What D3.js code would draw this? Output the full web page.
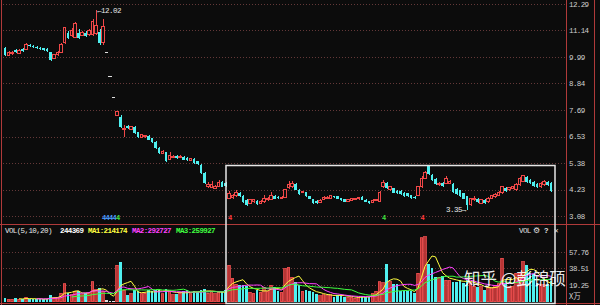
<!DOCTYPE html>
<html>
<head>
<meta charset="utf-8">
<script src="https://cdn.jsdelivr.net/npm/d3@7"></script>
<style>
  html, body { margin: 0; padding: 0; background: #0c0c0c; }
  svg { display: block; }
</style>
</head>
<body>
<div id="chart"></div>
<script>
// daily bars, oldest first
const openP = [
  10.36,10.07,10.12,10.29,10.16,10.33,10.30,10.50,10.48,10.44,
  10.40,10.36,10.33,10.20,9.92,10.08,10.20,10.60,11.05,10.90,
  10.85,11.05,10.92,11.05,10.95,10.95,11.00,11.07,10.60,10.20,
  9.18,8.26,7.43,7.40,6.82,7.00,6.85,6.95,6.72,6.48,
  6.53,6.55,6.45,6.30,6.05,5.80,5.85,5.55,5.62,5.70,
  5.60,5.66,5.60,5.50,5.55,5.45,5.30,4.95,4.36,4.30,
  4.28,4.38,4.55,4.50,3.86,3.88,3.95,4.08,3.95,3.78,
  3.64,3.70,3.73,3.62,3.69,3.78,3.80,3.95,3.90,3.86,
  3.87,4.30,4.35,4.47,4.22,4.10,4.12,3.95,3.82,3.73,
  3.68,3.80,3.82,3.83,3.93,3.95,3.86,3.82,3.70,3.76,
  3.78,3.84,3.90,3.78,3.72,3.68,3.74,3.70,4.34,4.51,
  4.21,4.28,4.15,4.17,4.10,4.06,3.98,3.92,3.99,4.34,
  4.73,5.25,4.86,4.68,4.43,4.51,4.50,4.48,4.47,4.25,
  4.20,4.06,3.95,3.56,3.78,3.82,3.64,3.78,3.69,3.82,
  3.91,3.99,4.08,4.30,4.21,4.28,4.21,4.43,4.60,4.77,
  4.64,4.56,4.47,4.34,4.43,4.56,4.51
];
const closeP = [
  10.07,10.20,10.20,10.20,10.29,10.25,10.55,10.45,10.44,10.38,
  10.33,10.28,10.25,9.86,10.10,10.20,10.55,11.25,10.82,11.15,
  11.45,10.80,11.05,10.88,11.15,11.55,11.35,10.60,11.33,10.20,
  9.18,8.26,7.60,6.95,6.90,6.90,6.95,6.70,6.52,6.60,
  6.58,6.40,6.30,6.05,5.82,5.90,5.45,5.72,5.67,5.60,
  5.68,5.52,5.52,5.58,5.40,5.35,4.95,4.50,4.46,4.45,
  4.38,4.52,4.34,4.40,4.06,3.99,4.08,3.95,3.69,3.56,
  3.78,3.78,3.60,3.73,3.82,3.86,3.99,3.82,3.86,3.90,
  4.21,4.46,4.50,4.22,4.04,4.14,3.95,3.82,3.66,3.65,
  3.76,3.90,3.90,3.95,3.90,3.82,3.78,3.70,3.78,3.82,
  3.82,3.87,3.78,3.70,3.65,3.76,3.80,4.12,4.55,4.30,
  4.34,4.10,4.10,4.04,3.95,3.95,3.86,3.86,4.34,4.73,
  4.99,4.90,4.64,4.47,4.51,4.38,4.73,4.60,4.12,4.04,
  3.95,3.82,3.56,3.82,3.86,3.70,3.78,3.66,3.86,3.95,
  4.03,4.12,4.34,4.17,4.30,4.34,4.47,4.73,4.82,4.56,
  4.51,4.38,4.34,4.51,4.60,4.43,4.17
];
const highP = [
  10.42,10.25,10.24,10.32,10.33,10.36,10.60,10.55,10.52,10.47,
  10.44,10.40,10.36,10.22,10.12,10.25,10.60,11.30,11.10,11.25,
  11.50,11.20,11.12,11.10,11.20,11.65,12.02,11.20,11.65,10.20,
  9.18,8.26,7.62,7.45,7.03,7.05,6.98,6.98,6.75,6.65,
  6.62,6.58,6.48,6.33,6.08,5.95,5.88,5.85,5.72,5.72,
  5.72,5.70,5.63,5.62,5.58,5.48,5.33,4.98,4.55,4.62,
  4.42,4.64,4.60,4.55,4.18,4.05,4.21,4.12,3.98,3.80,
  3.82,3.82,3.76,3.76,3.99,3.90,4.12,3.98,3.93,3.93,
  4.24,4.62,4.58,4.52,4.25,4.18,4.14,3.97,3.84,3.76,
  3.80,3.95,3.94,3.99,3.97,3.97,3.88,3.84,3.80,3.86,
  3.86,3.90,3.93,3.80,3.75,3.80,3.84,4.16,4.64,4.55,
  4.38,4.30,4.20,4.20,4.12,4.08,4.00,3.95,4.38,4.80,
  5.05,5.30,4.90,4.72,4.56,4.55,4.82,4.65,4.50,4.28,
  4.22,4.08,3.97,3.86,3.95,3.86,3.82,3.80,3.90,3.99,
  4.06,4.15,4.38,4.34,4.33,4.40,4.50,4.78,4.86,4.82,
  4.68,4.60,4.50,4.55,4.64,4.62,4.55
];
const lowP = [
  10.02,10.03,10.08,10.16,10.12,10.22,10.28,10.42,10.40,10.35,
  10.30,10.25,10.22,9.82,9.88,10.05,10.15,10.55,10.75,10.85,
  10.80,10.75,10.88,10.85,10.90,10.90,10.95,10.50,10.50,10.20,
  9.18,8.26,7.43,6.92,6.52,6.88,6.82,6.66,6.48,6.45,
  6.48,6.37,6.27,6.00,5.78,5.76,5.42,5.50,5.58,5.55,
  5.58,5.50,5.48,5.45,5.36,5.30,4.92,4.46,4.30,4.28,
  4.25,4.35,4.32,4.36,3.82,3.84,3.92,3.92,3.65,3.52,
  3.60,3.66,3.56,3.58,3.66,3.75,3.76,3.80,3.83,3.84,
  3.85,4.26,4.30,4.20,4.00,4.06,3.92,3.80,3.62,3.62,
  3.65,3.78,3.80,3.80,3.87,3.80,3.75,3.67,3.67,3.74,
  3.76,3.79,3.76,3.67,3.62,3.65,3.72,3.68,4.30,4.27,
  4.18,4.06,4.05,4.00,3.92,3.92,3.83,3.82,3.96,4.30,
  4.70,4.88,4.60,4.43,4.40,4.35,4.46,4.45,4.08,4.00,
  3.92,3.80,3.35,3.52,3.75,3.66,3.60,3.62,3.66,3.80,
  3.88,3.96,4.05,4.14,4.18,4.25,4.18,4.40,4.57,4.52,
  4.48,4.35,4.30,4.30,4.40,4.40,4.14
];
// volume, 万
const volume = [
  4,3,3,4,3,3,5,3,3,3,
  3,3,3,8,5,5,10,21,10,8,
  12,12,8,10,9,23,14,16,12,1.5,
  1.0,1.2,42,46,13,8,9,14,12,9,
  10,13,12,14,13,9,15,12,8,9,
  10,12,13,9,12,11,14,15,10,12,
  9,11,12,13,42,27,20,19,19,18,
  11,10,14,11,16,12,19,17,12,11,
  38,40,28,23,19,12,14,12,11,9,
  7,8,7,8,6,8,7,6,5,5,
  4,5,7,6,5,10,12,23,22,44,
  23,20,21,12,12,12,12,10,33,74,
  75,43,39,28,28,30,25,25,23,23,
  25,22,25,22,18,17,17,14,16,16,
  19,21,50,22,17,18,33,33,46,42,
  33,32,22,20,20,21,24.4
];

const priceTicks = [12.29, 11.14, 9.99, 8.84, 7.69, 6.53, 5.38, 4.23, 3.08];
const volTicks = [57.76, 38.51, 19.25];
const volLegend = ["VOL(5,10,20)", "244369", "MA1:214174", "MA2:292727", "MA3:259927"];
const maPeriods = [5, 10, 20];
const highMark = 12.02, lowMark = 3.35;
const eventIdx = [28, 29, 30, 31, 32, 64, 108, 119];
const eventType = ["info", "info", "info", "info", "up", "down", "up", "down"];

const W = 600, H = 305;
const BG = "#0c0c0c";
const RED = "#f04848", CYAN = "#4ff0f0", FRAME = "#b03a3a", GRID = "#643838";
const MONO = "'Liberation Mono', 'DejaVu Sans Mono', monospace";

const svg = d3.select("#chart").append("svg")
  .attr("width", W).attr("height", H);

svg.append("rect").attr("width", W).attr("height", H).attr("fill", BG);

const idx = d3.range(openP.length);
const x = d3.scaleBand().domain(idx).range([3.25, 552.75]);
const cx = i => x(i) + x.bandwidth() / 2;
const bw = 2.8;

const y = d3.scaleLinear().domain([3.08, 12.29]).range([216, 4]);
const yv = d3.scaleLinear().domain([0, 57.76]).range([301.7, 251.7]);

// grid
const grid = svg.append("g").attr("stroke", GRID).attr("stroke-dasharray", "1 2");
grid.selectAll(".gp").data(priceTicks).join("line")
  .attr("x1", 3).attr("x2", 566)
  .attr("y1", d => Math.round(y(d)) + 0.5).attr("y2", d => Math.round(y(d)) + 0.5);
grid.selectAll(".gv").data(volTicks).join("line")
  .attr("x1", 3).attr("x2", 566)
  .attr("y1", d => Math.round(yv(d)) + 0.5).attr("y2", d => Math.round(yv(d)) + 0.5);

// frame lines
const frame = svg.append("g").attr("stroke", FRAME).attr("stroke-width", 1).attr("shape-rendering", "crispEdges");
frame.append("line").attr("x1", 1.5).attr("x2", 1.5).attr("y1", 0).attr("y2", H);
frame.append("line").attr("x1", 566.5).attr("x2", 566.5).attr("y1", 0).attr("y2", H);
frame.append("line").attr("x1", 594.5).attr("x2", 594.5).attr("y1", 0).attr("y2", H);
frame.append("line").attr("x1", 0).attr("x2", W).attr("y1", 224.5).attr("y2", 224.5);
frame.append("line").attr("x1", 0).attr("x2", W).attr("y1", 303.5).attr("y2", 303.5);

const dir = i => closeP[i] > openP[i] ? 1 : closeP[i] < openP[i] ? -1 : 0;
const colorOf = i => dir(i) > 0 ? RED : dir(i) < 0 ? CYAN : "#e0e0e0";

// volume bars
svg.append("g").attr("shape-rendering", "crispEdges")
  .selectAll("rect").data(idx).join("rect")
  .attr("x", i => cx(i) - bw / 2)
  .attr("width", bw)
  .attr("y", i => yv(volume[i]))
  .attr("height", i => Math.max(1, yv(0) - yv(volume[i])))
  .attr("fill", i => dir(i) > 0 ? "#b83434" : dir(i) < 0 ? CYAN : "#e0e0e0")
  .attr("stroke", i => dir(i) > 0 ? "#f05050" : "none")
  .attr("stroke-width", 0.8);

// volume moving averages
const ma = n => idx.map(i => i < n - 1 ? null : d3.mean(volume.slice(i - n + 1, i + 1)));
const maColors = ["#ffff40", "#ff40ff", "#40ff40"];
const maLine = d3.line().defined(d => d != null).x((d, i) => cx(i)).y(d => yv(d));
maPeriods.forEach((n, k) => {
  svg.append("path").datum(ma(n))
    .attr("d", maLine)
    .attr("fill", "none")
    .attr("stroke", maColors[k])
    .attr("stroke-width", 1);
});

// candles
const cg = svg.append("g").attr("shape-rendering", "crispEdges");
cg.selectAll(".wick").data(idx).join("line")
  .attr("x1", i => Math.round(cx(i)) + 0.5).attr("x2", i => Math.round(cx(i)) + 0.5)
  .attr("y1", i => y(highP[i])).attr("y2", i => y(lowP[i]))
  .attr("stroke", colorOf);
cg.selectAll(".body").data(idx).join("rect")
  .attr("x", i => cx(i) - bw / 2 - (dir(i) === 0 ? 0.4 : 0))
  .attr("width", i => dir(i) === 0 ? bw + 0.8 : bw)
  .attr("y", i => y(Math.max(openP[i], closeP[i])))
  .attr("height", i => Math.max(1, Math.abs(y(openP[i]) - y(closeP[i]))))
  .attr("fill", i => dir(i) > 0 ? BG : colorOf(i))
  .attr("stroke", i => dir(i) > 0 ? RED : "none")
  .attr("stroke-width", 1);

// high / low annotations
const hi = highP.indexOf(highMark), lo = lowP.indexOf(lowMark);
const ann = svg.append("g").attr("fill", "#e8e8e8").style("font-family", MONO).style("font-size", "7.5px").style("letter-spacing", "-0.5px");
ann.append("text").attr("x", cx(hi) + 1).attr("y", y(highMark) + 2.5).text("\u2190" + highMark.toFixed(2));
ann.append("text").attr("x", cx(lo) - 1).attr("y", y(lowMark) + 2.5).attr("text-anchor", "end").text(lowMark.toFixed(2) + "\u2192");

// event markers
const evColor = { info: "#4a9cff", up: "#40e040", down: "#ff3a3a" };
svg.append("g").style("font-family", MONO).style("font-size", "7px").style("font-weight", "bold")
  .selectAll("text").data(eventIdx).join("text")
  .attr("x", i => cx(i) + 1).attr("y", 220).attr("text-anchor", "middle")
  .attr("fill", (d, k) => evColor[eventType[k]])
  .text("4");

// selection box
svg.append("rect")
  .attr("x", 226).attr("y", 165.5).attr("width", 329).attr("height", 138)
  .attr("fill", "none").attr("stroke", "#e6e6e6").attr("stroke-width", 1.5);

// axes
const styleAxis = g => {
  g.select(".domain").remove();
  g.attr("font-family", null).attr("font-size", null);
  g.selectAll("text").attr("fill", "#d0d0d0")
    .style("font-family", MONO).style("font-size", "7.5px").style("letter-spacing", "-0.6px");
};
svg.append("g").attr("transform", "translate(566,0)")
  .call(d3.axisRight(y).tickValues(priceTicks).tickSize(0).tickPadding(3).tickFormat(d3.format(".2f")))
  .call(styleAxis);
svg.append("g").attr("transform", "translate(566,0)")
  .call(d3.axisRight(yv).tickValues(volTicks).tickSize(0).tickPadding(3).tickFormat(d3.format(".2f")))
  .call(styleAxis);
svg.append("text").attr("x", 569).attr("y", 299).attr("fill", "#d0d0d0")
  .style("font-family", "'Noto Sans CJK SC', sans-serif").style("font-size", "7.5px").text("X万");

// volume legend
const legColors = ["#e8e8e8", "#ffffff", "#ffff40", "#ff40ff", "#40ff40"];
const legX = [5, 60, 88, 132, 176];
svg.append("g").style("font-family", MONO).style("font-size", "7.5px").style("letter-spacing", "-0.6px")
  .selectAll("text").data(volLegend).join("text")
  .attr("x", (d, k) => legX[k]).attr("y", 232.5)
  .attr("fill", (d, k) => legColors[k])
  .style("font-weight", (d, k) => k > 0 ? "bold" : "normal")
  .text(d => d);

// indicator toolbar
const tb = svg.append("g").attr("fill", "#e0e0e0").style("font-family", MONO).style("font-size", "7.5px").style("letter-spacing", "-0.6px");
tb.append("text").attr("x", 519).attr("y", 232.5).text("VOL");
tb.append("text").attr("x", 533).attr("y", 233).style("font-size", "8px").style("font-family", "'DejaVu Sans', sans-serif").text("\u2699");
tb.append("text").attr("x", 544).attr("y", 232.5).style("font-weight", "bold").text("?");
tb.append("text").attr("x", 554).attr("y", 232.5).style("font-weight", "bold").text("\u2715");

// watermark, kept left of the axis labels
svg.append("text").attr("x", 464).attr("y", 285)
  .attr("fill", "#ffffff").attr("fill-opacity", 0.93)
  .style("font-family", "'Noto Sans CJK SC', sans-serif").style("font-size", "16.5px")
  .text("知乎 @彭锦硕");
</script>
</body>
</html>
